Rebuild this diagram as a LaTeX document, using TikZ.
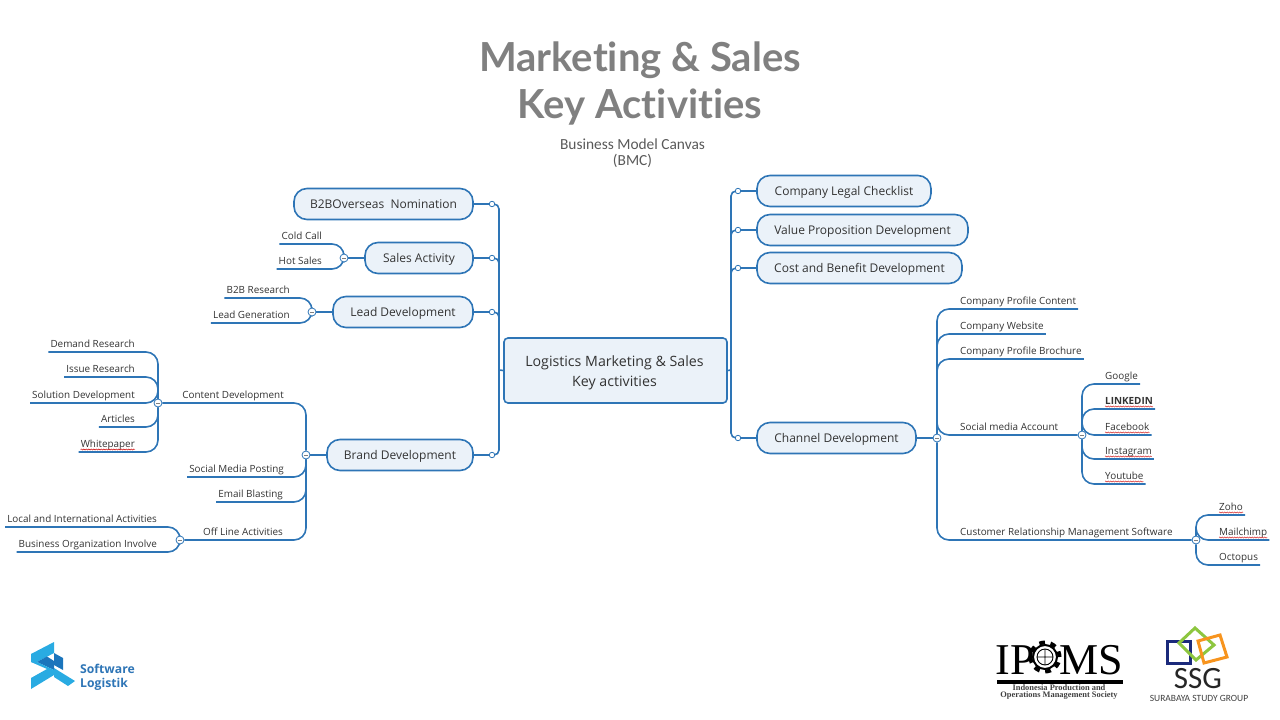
\documentclass[tikz,border=0pt]{standalone}
\usepackage{fontspec}
\setmainfont{Open Sans}
\newfontfamily\titlefont[Ligatures=NoCommon]{Lato}
\newfontfamily\capfont{Carlito}
\newfontfamily\logofont{Liberation Serif}
\usetikzlibrary{backgrounds,decorations.pathmorphing}
\definecolor{linkblue}{HTML}{2E75B6}
\definecolor{boxblue}{HTML}{EBF2F9}
\definecolor{inktext}{HTML}{333333}
\definecolor{logolight}{HTML}{29ABE2}
\definecolor{logodark}{HTML}{1B75BC}
\definecolor{ssgnavy}{HTML}{1B2A7B}
\definecolor{ssggreen}{HTML}{8DC63F}
\definecolor{ssgorange}{HTML}{F7941E}
\tikzset{
link/.style={draw=linkblue,line width=1.6pt,rounded corners=12pt},
mainlink/.style={draw=linkblue,line width=1.6pt,rounded corners=5pt},
branch/.style={rectangle,rounded corners=13pt,draw=linkblue,line width=1.6pt,fill=boxblue,text=inktext,font=\fontsize{12}{14}\selectfont,minimum height=31pt,inner sep=0pt,text height=10pt,text depth=2pt},
centerbox/.style={rectangle,rounded corners=4pt,draw=linkblue,line width=1.6pt,fill=boxblue,minimum width=223pt,minimum height=65pt,inner sep=0pt},
centertext/.style={text=inktext,font=\fontsize{14.2}{19.5}\selectfont,align=center},
leaf/.style={text=inktext,font=\fontsize{9.9}{11}\selectfont,inner xsep=2pt,inner ysep=0pt,text height=9pt,text depth=4pt},
knob/.style={circle,draw=linkblue,line width=.8pt,fill=white,inner sep=0pt,minimum size=8pt,path picture={\draw[gray,line width=1pt] (path picture bounding box.center)+(-2.2pt,0)--+(2.2pt,0);}},
dot/.style={circle,draw=linkblue,line width=.8pt,fill=white,inner sep=0pt,minimum size=5.5pt},
spell/.style={draw=red!80!black,line width=.4pt,decorate,decoration={snake,amplitude=.6pt,segment length=2.5pt}}
}
\begin{document}
\begin{tikzpicture}[x=1pt,y=-1pt]
\useasboundingbox (0,0) rectangle (1280,720);
% title
\node[text=black!50,font=\titlefont\bfseries\fontsize{40}{47}\selectfont,align=center] (title) at (640,83) {Marketing \& Sales\\Key Activities};
\node[text=black!65,font=\capfont\fontsize{15.4}{16}\selectfont,align=center] (subtitle) at (632.5,153) {Business Model Canvas\\(BMC)};
% centre and main branches
\node[centerbox] (center) at (615.5,370.5) {};
\node[centertext] (centerlabel) at (614.5,373) {Logistics Marketing \& Sales\\Key activities};
\node[branch,minimum width=179pt] (overseas) at (383.5,204) {B2BOverseas\ \ Nomination};
\node[branch,minimum width=108pt] (sales) at (419,258) {Sales Activity};
\node[branch,minimum width=140pt] (lead) at (403,312) {Lead Development};
\node[branch,minimum width=146pt] (brand) at (400,455) {Brand Development};
\node[branch,minimum width=174pt] (legal) at (844,191) {Company Legal Checklist};
\node[branch,minimum width=211pt] (value) at (862.5,230) {Value Proposition Development};
\node[branch,minimum width=205pt] (cost) at (859.5,268) {Cost and Benefit Development};
\node[branch,minimum width=159pt] (channel) at (836.5,438) {Channel Development};
\coordinate (ltrunk) at (499,370);
\coordinate (rtrunk) at (731,370);
\node[dot] (overseasdot) at (492,204) {};
\node[dot] (salesdot) at (492,258) {};
\node[dot] (leaddot) at (492,312) {};
\node[dot] (branddot) at (492,455) {};
\node[dot] (legaldot) at (738,191) {};
\node[dot] (valuedot) at (738,230) {};
\node[dot] (costdot) at (738,268) {};
\node[dot] (channeldot) at (738,438) {};
% knobs
\node[knob] (salesknob) at (344,258) {};
\node[knob] (leadknob) at (312,312) {};
\node[knob] (brandknob) at (306,455) {};
\node[knob] (contentknob) at (158,403) {};
\node[knob] (offlineknob) at (180,540) {};
\node[knob] (channelknob) at (937,438) {};
\node[knob] (socialknob) at (1082,435) {};
\node[knob] (crmknob) at (1196,540) {};
% leaves on the left
\node[leaf,anchor=south east] (coldcall) at (324,244) {Cold Call};
\node[leaf,anchor=south east] (hotsales) at (324,269) {Hot Sales};
\node[leaf,anchor=south east] (bresearch) at (292,298) {B2B Research};
\node[leaf,anchor=south east] (leadgen) at (292,323) {Lead Generation};
\node[leaf,anchor=south east] (content) at (286,403) {Content Development};
\node[leaf,anchor=south east] (socialpost) at (286,477) {Social Media Posting};
\node[leaf,anchor=south east] (email) at (285,502) {Email Blasting};
\node[leaf,anchor=south east] (offline) at (285,540) {Off Line Activities};
\node[leaf,anchor=south east] (demand) at (137,352) {Demand Research};
\node[leaf,anchor=south east] (issue) at (137,377) {Issue Research};
\node[leaf,anchor=south east] (solution) at (137,403) {Solution Development};
\node[leaf,anchor=south east] (articles) at (137,427) {Articles};
\node[leaf,anchor=south east] (whitepaper) at (137,452) {Whitepaper};
\node[leaf,anchor=south east] (localact) at (159,527) {Local and International Activities};
\node[leaf,anchor=south east] (bizorg) at (159,552) {Business Organization Involve};
% leaves on the right
\node[leaf,anchor=south west] (profile) at (958,309) {Company Profile Content};
\node[leaf,anchor=south west] (website) at (958,334) {Company Website};
\node[leaf,anchor=south west] (brochure) at (958,359) {Company Profile Brochure};
\node[leaf,anchor=south west] (social) at (958,435) {Social media Account};
\node[leaf,anchor=south west] (crm) at (958,540) {Customer Relationship Management Software};
\node[leaf,anchor=south west] (google) at (1103,384) {Google};
\node[leaf,anchor=south west,font=\fontsize{9.9}{11}\selectfont\bfseries] (linkedin) at (1103,409) {LINKEDIN};
\node[leaf,anchor=south west] (facebook) at (1103,435) {Facebook};
\node[leaf,anchor=south west] (instagram) at (1103,459) {Instagram};
\node[leaf,anchor=south west] (youtube) at (1103,484) {Youtube};
\node[leaf,anchor=south west] (zoho) at (1217,515) {Zoho};
\node[leaf,anchor=south west] (mailchimp) at (1217,540) {Mailchimp};
\node[leaf,anchor=south west] (octopus) at (1217,565) {Octopus};
\begin{scope}[on background layer]
\draw[link] (center.west)--(ltrunk) (center.east)--(rtrunk);
\foreach \a in {overseas,sales,lead,brand} {
\draw[mainlink] (\a.east) -| (ltrunk);
}
\foreach \a in {legal,value,cost,channel} {
\draw[mainlink] (\a.west) -| (rtrunk);
}
\draw[link] (sales.west)--(salesknob) (lead.west)--(leadknob) (brand.west)--(brandknob) (channel.east)--(channelknob);
\foreach \a in {coldcall,hotsales} {
\draw[link] (salesknob) |- (\a.south west);
}
\foreach \a in {bresearch,leadgen} {
\draw[link] (leadknob) |- (\a.south west);
}
\foreach \a in {socialpost,email} {
\draw[link] (brandknob) |- (\a.south west);
}
\draw[link] (brandknob) |- (contentknob);
\draw[link] (brandknob) |- (offlineknob);
\foreach \a in {demand,issue,solution,articles,whitepaper} {
\draw[link] (contentknob) |- (\a.south west);
}
\foreach \a in {localact,bizorg} {
\draw[link] (offlineknob) |- (\a.south west);
}
\foreach \a in {profile,website,brochure} {
\draw[link] (channelknob) |- (\a.south east);
}
\draw[link] (channelknob) |- (socialknob);
\draw[link] (channelknob) |- (crmknob);
\foreach \a in {google,linkedin,facebook,instagram,youtube} {
\draw[link] (socialknob) |- (\a.south east);
}
\foreach \a in {zoho,mailchimp,octopus} {
\draw[link] (crmknob) |- (\a.south east);
}
\end{scope}
% spelling marks
\foreach \a in {whitepaper,linkedin,facebook,instagram,youtube,zoho,mailchimp} {
\draw[spell] ([shift={(2pt,2.5pt)}]\a.south west) -- ([shift={(-2pt,2.5pt)}]\a.south east);
}
% software logistik logo
\fill[logolight] (31,654)--(54,642)--(54,653)--(37,662)--(31,662)--cycle;
\fill[logodark] (37,662)--(47,656.5)--(54,661)--(54,670)--cycle;
\fill[logolight] (31,662)--(37,662)--(54,670)--(54,675)--(31,689)--(31,678)--(47,669)--cycle;
\fill[logodark] (54,653)--(63,658)--(63,670)--(54,665)--cycle;
\fill[logolight] (54,668)--(75,681)--(68,686)--(54,677)--cycle;
\node[text=linkblue,font=\bfseries\fontsize{12.2}{14}\selectfont,align=left,anchor=west,inner sep=0pt] (softlogo) at (80,677.5) {Software\\Logistik};
% ipoms logo
\node[font=\logofont\fontsize{44}{44}\selectfont,inner sep=0pt] (ip) at (1015,660) {IP};
\node[font=\logofont\fontsize{44}{44}\selectfont,inner sep=0pt] (ms) at (1091,660) {MS};
\draw[line width=4pt,dash pattern=on 5.7pt off 5.7pt] (1045,657) circle [radius=14.5pt];
\draw[line width=2pt] (1045,657) circle [radius=12pt];
\draw[line width=.9pt] (1045,657) circle [radius=8pt] (1037,657)--(1053,657) (1045,649)--(1045,665);
\fill (997,680) rectangle (1123,683.5);
\node[font=\logofont\bfseries\fontsize{8.4}{7.5}\selectfont,align=center,text=black!75] (ipomstext) at (1059,692) {Indonesia Production and\\Operations Management Society};
% ssg logo
\draw[line width=3pt,draw=ssgnavy] (1167,641) rectangle (1190,663);
\draw[line width=3pt,draw=ssggreen] (1195,628)--(1214,645)--(1196,660)--(1179,643)--cycle;
\draw[line width=3pt,draw=ssgorange] (1198,641)--(1220,635)--(1227,657)--(1204,663)--cycle;
\node[font=\capfont\fontsize{31}{31}\selectfont,text=black!85,inner sep=0pt] (ssg) at (1198,679) {SSG};
\node[font=\capfont\fontsize{9.5}{10}\selectfont,text=black!75,inner sep=0pt] (ssgtext) at (1199,698.5) {SURABAYA STUDY GROUP};
\end{tikzpicture}
\end{document}
